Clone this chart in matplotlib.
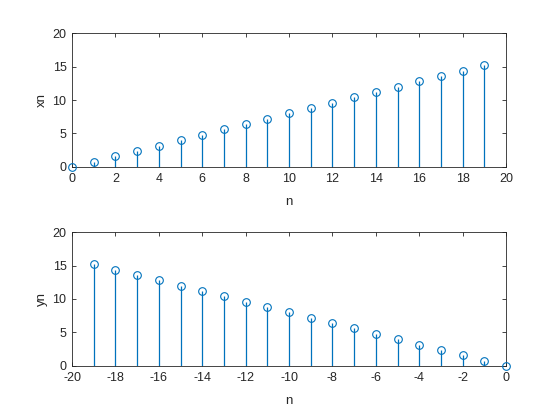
import matplotlib
matplotlib.use("Agg")
import matplotlib.pyplot as plt

# sample indices and values
n_x = [0, 1, 2, 3, 4, 5, 6, 7, 8, 9, 10, 11, 12, 13, 14, 15, 16, 17, 18, 19]
xn = [0.0, 0.8, 1.6, 2.4, 3.2, 4.0, 4.8, 5.6, 6.4, 7.2,
      8.0, 8.8, 9.6, 10.4, 11.2, 12.0, 12.8, 13.6, 14.4, 15.2]

n_y = [-19, -18, -17, -16, -15, -14, -13, -12, -11, -10,
       -9, -8, -7, -6, -5, -4, -3, -2, -1, 0]
yn = [15.2, 14.4, 13.6, 12.8, 12.0, 11.2, 10.4, 9.6, 8.8, 8.0,
      7.2, 6.4, 5.6, 4.8, 4.0, 3.2, 2.4, 1.6, 0.8, 0.0]

blue = '#0072BD'
axcol = '#262626'

plt.rcParams['font.family'] = ['Liberation Sans', 'DejaVu Sans']
plt.rcParams['font.size'] = 9
plt.rcParams['axes.unicode_minus'] = False

fig = plt.figure(figsize=(5.6, 4.2), dpi=100)


def stem_panel(ax, n, v, xlim, xticks, ylabel):
    ml, sl, bl = ax.stem(n, v, basefmt=' ')
    plt.setp(sl, color=blue, linewidth=0.9)
    plt.setp(ml, color=blue, markerfacecolor='none', markersize=5.5,
             markeredgewidth=0.8, clip_on=False, zorder=3)
    ax.set_xlim(xlim)
    ax.set_ylim(0, 20)
    ax.set_xticks(xticks)
    ax.set_yticks([0, 5, 10, 15, 20])
    ax.tick_params(direction='in', top=True, right=True, length=3, width=0.6,
                   colors=axcol, labelsize=9)
    ax.tick_params(axis='x', pad=4.5)
    ax.tick_params(axis='y', pad=4)
    for s in ax.spines.values():
        s.set_color(axcol)
        s.set_linewidth(0.6)
    ax.set_xlabel('n', fontsize=9.5, color=axcol, labelpad=8)
    ax.set_ylabel(ylabel, fontsize=9.5, color=axcol, labelpad=3)


ax1 = fig.add_axes([0.1286, 0.6024, 0.775, 0.319])
stem_panel(ax1, n_x, xn, (0, 20), range(0, 21, 2), 'xn')

ax2 = fig.add_axes([0.1286, 0.1286, 0.775, 0.319])
stem_panel(ax2, n_y, yn, (-20, 0), range(-20, 1, 2), 'yn')

fig.savefig('out.png', dpi=100)
